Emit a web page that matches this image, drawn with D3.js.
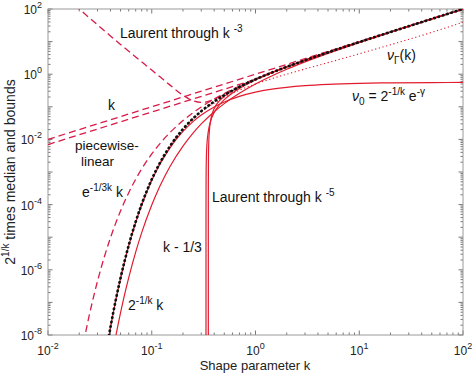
<!DOCTYPE html>
<html><head><meta charset="utf-8">
<script src="https://cdn.jsdelivr.net/npm/d3@7"></script>
<style>
html,body{margin:0;padding:0;background:#fff;}
svg{display:block;font-family:"Liberation Sans",Arial,Helvetica,sans-serif;}
</style></head><body>
<svg id="chart" width="474" height="376"></svg>
<script>
// ---------- data (values read / estimated from the reference picture) ----------
// median of the gamma distribution (black dotted)
const medianK = [0.035, 0.0375, 0.04, 0.045, 0.05, 0.06, 0.07, 0.08, 0.1, 0.12, 0.15, 0.2, 0.25, 0.3, 0.4, 0.5, 0.7, 1, 1.5, 2, 3, 5, 10, 20, 50, 100];
const medianV = [1.45e-9, 5.43e-9, 1.728e-8, 1.19e-7, 5.575e-7, 5.66e-6, 2.972e-5, 1.033e-4, 5.933e-4, 1.914e-3, 6.234e-3, 0.02075, 0.0437, 0.0732, 0.1451, 0.2275, 0.4074, 0.6931, 1.183, 1.6783, 2.6741, 4.6709, 9.6687, 19.668, 49.667, 99.667];
// nu_Gamma(k) (red dotted)
const nuGammaK = [0.035, 0.04, 0.045, 0.05, 0.06, 0.07, 0.08, 0.1, 0.12, 0.15, 0.2, 0.25, 0.3, 0.4, 0.5, 0.7, 1, 1.5, 2, 3, 5, 10, 20, 50, 100];
const nuGammaV = [1.45e-9, 1.728e-8, 1.19e-7, 5.575e-7, 5.66e-6, 2.972e-5, 1.0327e-4, 5.93e-4, 1.9105e-3, 6.20e-3, 0.020395, 0.04219, 0.06918, 0.13109, 0.19635, 0.32398, 0.5, 0.7615, 1.0, 1.44225, 2.26793, 4.22545, 8.0211, 19.2152, 39.5];
// nu_0 = 2^{-1/k} e^{-gamma} (solid)
const nu0K = [0.035, 0.04, 0.045, 0.05, 0.055, 0.06, 0.07, 0.08, 0.1, 0.12, 0.15, 0.2, 0.25, 0.3, 0.4, 0.5, 0.7, 1, 1.5, 2, 3, 5, 10, 20, 50, 100];
const nu0V = [1.41e-9, 1.673e-8, 1.148e-7, 5.354e-7, 1.888e-6, 5.40e-6, 2.811e-5, 9.69e-5, 5.483e-4, 1.740e-3, 5.527e-3, 0.017546, 0.035091, 0.05569, 0.09925, 0.14036, 0.20858, 0.28073, 0.35370, 0.39701, 0.44563, 0.48878, 0.52386, 0.54234, 0.55373, 0.55758];
// 2^{-1/k} k (solid)
const twoPowK = [0.04, 0.045, 0.05, 0.055, 0.06, 0.07, 0.08, 0.1, 0.12, 0.15, 0.2, 0.25, 0.3, 0.4, 0.5, 0.7, 1, 1.5, 2, 3, 5, 10, 20, 50, 100];
const twoPowV = [1.19e-9, 9.2e-9, 4.77e-8, 1.85e-7, 5.77e-7, 3.50e-6, 1.381e-5, 9.77e-5, 3.72e-4, 1.477e-3, 6.25e-3, 0.015625, 0.02976, 0.07071, 0.125, 0.26, 0.5, 0.9449, 1.41421, 2.3811, 4.3528, 9.3303, 19.319, 49.311, 99.309];
// e^{-1/3k} k (dashed)
const expK = [0.022, 0.025, 0.03, 0.035, 0.04, 0.05, 0.06, 0.07, 0.08, 0.1, 0.12, 0.15, 0.2, 0.25, 0.3, 0.4, 0.5, 0.7, 1, 1.5, 2, 3, 5, 10, 20, 50, 100];
const expV = [5.78e-9, 4.05e-8, 4.48e-7, 2.56e-6, 9.61e-6, 6.36e-5, 2.32e-4, 5.98e-4, 1.24e-3, 3.57e-3, 7.46e-3, 0.01625, 0.03778, 0.06588, 0.09876, 0.17384, 0.25667, 0.43472, 0.71653, 1.2013, 1.6930, 2.6852, 4.6788, 9.6722, 19.669, 49.668, 99.667];
// k (dashed)
const kLineK = [0.01, 100];
const kLineV = [0.01, 100];
// piecewise-linear (dashed)
const pwK = [0.01, 1, 1.1, 1.2, 1.35, 1.5, 1.75, 2, 2.5, 3, 4, 5, 7, 10, 20, 50, 100];
const pwV = [0.006931, 0.693147, 0.79315, 0.89315, 1.04315, 1.19315, 1.44315, 1.69315, 2.19315, 2.69315, 3.69315, 4.69315, 6.69315, 9.69315, 19.69315, 49.69315, 99.69315];
// Laurent series through k^-3 (dashed)
const l3K = [0.018, 0.02, 0.025, 0.03, 0.04, 0.05, 0.07, 0.1, 0.12, 0.15, 0.2, 0.25, 0.3, 0.35, 0.4, 0.5, 0.7, 1, 1.5, 2, 3, 5, 10, 20, 50, 100];
const l3V = [134.95, 100.28, 53.788, 32.539, 14.905, 8.2174, 3.3933, 1.33797, 0.82976, 0.46224, 0.22731, 0.15283, 0.13681, 0.1472, 0.17132, 0.24025, 0.41151, 0.69428, 1.18324, 1.67843, 2.67409, 4.67091, 9.66872, 19.66766, 49.66707, 99.667];
// Laurent series through k^-5 (solid)
const l5K = [0.350876, 0.35088, 0.3509, 0.351, 0.352, 0.355, 0.36, 0.37, 0.38, 0.4, 0.45, 0.5, 0.6, 0.7, 1, 1.5, 2, 3, 5, 10, 20, 50, 100];
const l5V = [1e-9, 9.1e-6, 5.4e-5, 2.82e-4, 2.505e-3, 9.055e-3, 0.019543, 0.039056, 0.056911, 0.088757, 0.154165, 0.209223, 0.308584, 0.404265, 0.692685, 1.182943, 1.678337, 2.67406, 4.67091, 9.66872, 19.66766, 49.66707, 99.667];
// k - 1/3 (solid)
const kmK = [0.33333334, 0.33334, 0.3334, 0.334, 0.336, 0.34, 0.35, 0.37, 0.4, 0.45, 0.5, 0.6, 0.7, 1, 1.5, 2, 3, 5, 10, 20, 50, 100];
const kmV = [6.7e-9, 6.67e-6, 6.67e-5, 6.67e-4, 2.667e-3, 6.667e-3, 0.016667, 0.036667, 0.066667, 0.116667, 0.166667, 0.266667, 0.366667, 0.666667, 1.166667, 1.666667, 2.666667, 4.666667, 9.666667, 19.666667, 49.666667, 99.666667];

// axis ticks
const xTickExps = [-2, -1, 0, 1, 2];
const yTickExps = [2, 0, -2, -4, -6, -8];

// ---------- layout ----------
const L = 48, R = 463, T = 9, B = 335;
const RED = "#e31b2e", RED_D = "#d81c48";

const svg = d3.select("#chart");
const x = d3.scaleLog().domain([1e-2, 1e2]).range([L, R]);
const y = d3.scaleLog().domain([1e-8, 1e2]).range([B, T]);

svg.append("defs").append("clipPath").attr("id", "plotclip")
  .append("rect").attr("x", L).attr("y", T).attr("width", R - L).attr("height", B - T);

// ticks (inside, all four sides)
const minorVals = (lo, hi) => { const a = []; for (let e = lo; e < hi; e++) for (let m = 2; m <= 9; m++) a.push(m * Math.pow(10, e)); return a; };
const g = svg.append("g");
const tickCol = "#555";
const xMaj = d3.range(-2, 3).map(e => Math.pow(10, e));
const yMaj = d3.range(-8, 3).map(e => Math.pow(10, e));
const xMin = minorVals(-2, 2), yMin = minorVals(-8, 2);
function xt(vals, len) {
  vals.forEach(v => {
    g.append("line").attr("x1", x(v)).attr("x2", x(v)).attr("y1", B).attr("y2", B - len).attr("stroke", tickCol).attr("stroke-width", 0.8);
    g.append("line").attr("x1", x(v)).attr("x2", x(v)).attr("y1", T).attr("y2", T + len).attr("stroke", tickCol).attr("stroke-width", 0.8);
  });
}
function yt(vals, len) {
  vals.forEach(v => {
    g.append("line").attr("y1", y(v)).attr("y2", y(v)).attr("x1", L).attr("x2", L + len).attr("stroke", tickCol).attr("stroke-width", 0.8);
    g.append("line").attr("y1", y(v)).attr("y2", y(v)).attr("x1", R).attr("x2", R - len).attr("stroke", tickCol).attr("stroke-width", 0.8);
  });
}
xt(xMaj, 4.5); xt(xMin, 2.5); yt(yMaj, 4.5); yt(yMin, 2.5);
g.append("rect").attr("x", L).attr("y", T).attr("width", R - L).attr("height", B - T)
  .attr("fill", "none").attr("stroke", "#9a9a9a").attr("stroke-width", 1);

// tick labels
const tl = svg.append("g").attr("fill", "#222").attr("font-size", 12);
xTickExps.forEach(e => {
  const t = tl.append("text").attr("x", x(Math.pow(10, e))).attr("y", 355).attr("text-anchor", "middle");
  t.append("tspan").text("10");
  t.append("tspan").attr("dy", -6).attr("font-size", 9).text(e < 0 ? "-" + (-e) : String(e));
});
yTickExps.forEach(e => {
  const t = tl.append("text").attr("x", 42).attr("y", y(Math.pow(10, e)) + 5).attr("text-anchor", "end");
  t.append("tspan").text("10");
  t.append("tspan").attr("dy", -6).attr("font-size", 9).text(e < 0 ? "-" + (-e) : String(e));
});

// axis titles
svg.append("text").attr("x", 255).attr("y", 370).attr("text-anchor", "middle")
  .attr("font-size", 13).attr("fill", "#222").text("Shape parameter k");
const ytl = svg.append("text").attr("transform", "translate(15,172) rotate(-90)")
  .attr("text-anchor", "middle").attr("font-size", 14).attr("fill", "#222");
ytl.append("tspan").text("2");
ytl.append("tspan").attr("dy", -6).attr("font-size", 10).text("1/k");
ytl.append("tspan").attr("dy", 6).text(" times median and bounds");

// ---------- curves ----------
const series = [
  { k: kLineK, v: kLineV, col: RED_D, dash: "7,4", w: 1.3, curve: d3.curveLinear },
  { k: pwK, v: pwV, col: RED_D, dash: "7,4", w: 1.3, curve: d3.curveLinear },
  { k: expK, v: expV, col: RED_D, dash: "7,4", w: 1.3, curve: d3.curveMonotoneX },
  { k: l3K, v: l3V, col: RED_D, dash: "7,4", w: 1.3, curve: d3.curveMonotoneX },
  { k: kmK, v: kmV, col: RED, dash: null, w: 1.2, curve: d3.curveMonotoneX },
  { k: l5K, v: l5V, col: RED, dash: null, w: 1.2, curve: d3.curveMonotoneX },
  { k: twoPowK, v: twoPowV, col: RED, dash: null, w: 1.2, curve: d3.curveMonotoneX },
  { k: nu0K, v: nu0V, col: RED, dash: null, w: 1.2, curve: d3.curveMonotoneX },
  { k: nuGammaK, v: nuGammaV, col: RED, dash: "1.2,2.6", w: 1.1, curve: d3.curveMonotoneX },
  { k: medianK, v: medianV, col: "#111", dash: "0.6,3.9", w: 2.7, curve: d3.curveMonotoneX, cap: "round" }
];
const plot = svg.append("g").attr("clip-path", "url(#plotclip)");
series.forEach(s => {
  const pts = s.k.map((kk, i) => [kk, s.v[i]]);
  const line = d3.line().x(d => x(d[0])).y(d => y(d[1])).curve(s.curve);
  const p = plot.append("path").attr("d", line(pts)).attr("fill", "none")
    .attr("stroke", s.col).attr("stroke-width", s.w);
  if (s.dash) p.attr("stroke-dasharray", s.dash);
  if (s.cap) p.attr("stroke-linecap", s.cap);
});

// ---------- annotations ----------
const ann = svg.append("g").attr("font-size", 14).attr("fill", "#111");
function label(xp, yp, parts, fs) {
  const t = ann.append("text").attr("x", xp).attr("y", yp);
  if (fs) t.attr("font-size", fs);
  let cur = 0;
  parts.forEach(p => {
    const off = p.sup ? -6 : p.sub ? 4 : 0;
    const ts = t.append("tspan").attr("dy", off - cur).text(p.t);
    if (p.sup || p.sub) ts.attr("font-size", 10);
    if (p.it) ts.attr("font-style", "italic");
    cur = off;
  });
  return t;
}
label(120, 38, [{ t: "Laurent through k " }, { t: "-3", sup: true }]);
label(108, 110, [{ t: "k" }]);
label(75, 150, [{ t: "piecewise-" }], 13.5);
label(81, 166, [{ t: "linear" }], 13.5);
label(82, 197, [{ t: "e" }, { t: "-1/3k", sup: true }, { t: " k" }]);
label(212, 202, [{ t: "Laurent through k " }, { t: "-5", sup: true }]);
label(163, 252, [{ t: "k - 1/3" }]);
label(128, 310, [{ t: "2" }, { t: "-1/k", sup: true }, { t: " k" }]);
label(387, 60, [{ t: "ν", it: true }, { t: "Γ", sub: true }, { t: "(k)" }]);
label(352, 101, [{ t: "ν", it: true }, { t: "0", sub: true }, { t: " = 2" }, { t: "-1/k", sup: true }, { t: " e" }, { t: "-γ", sup: true }]);
</script>
</body></html>
